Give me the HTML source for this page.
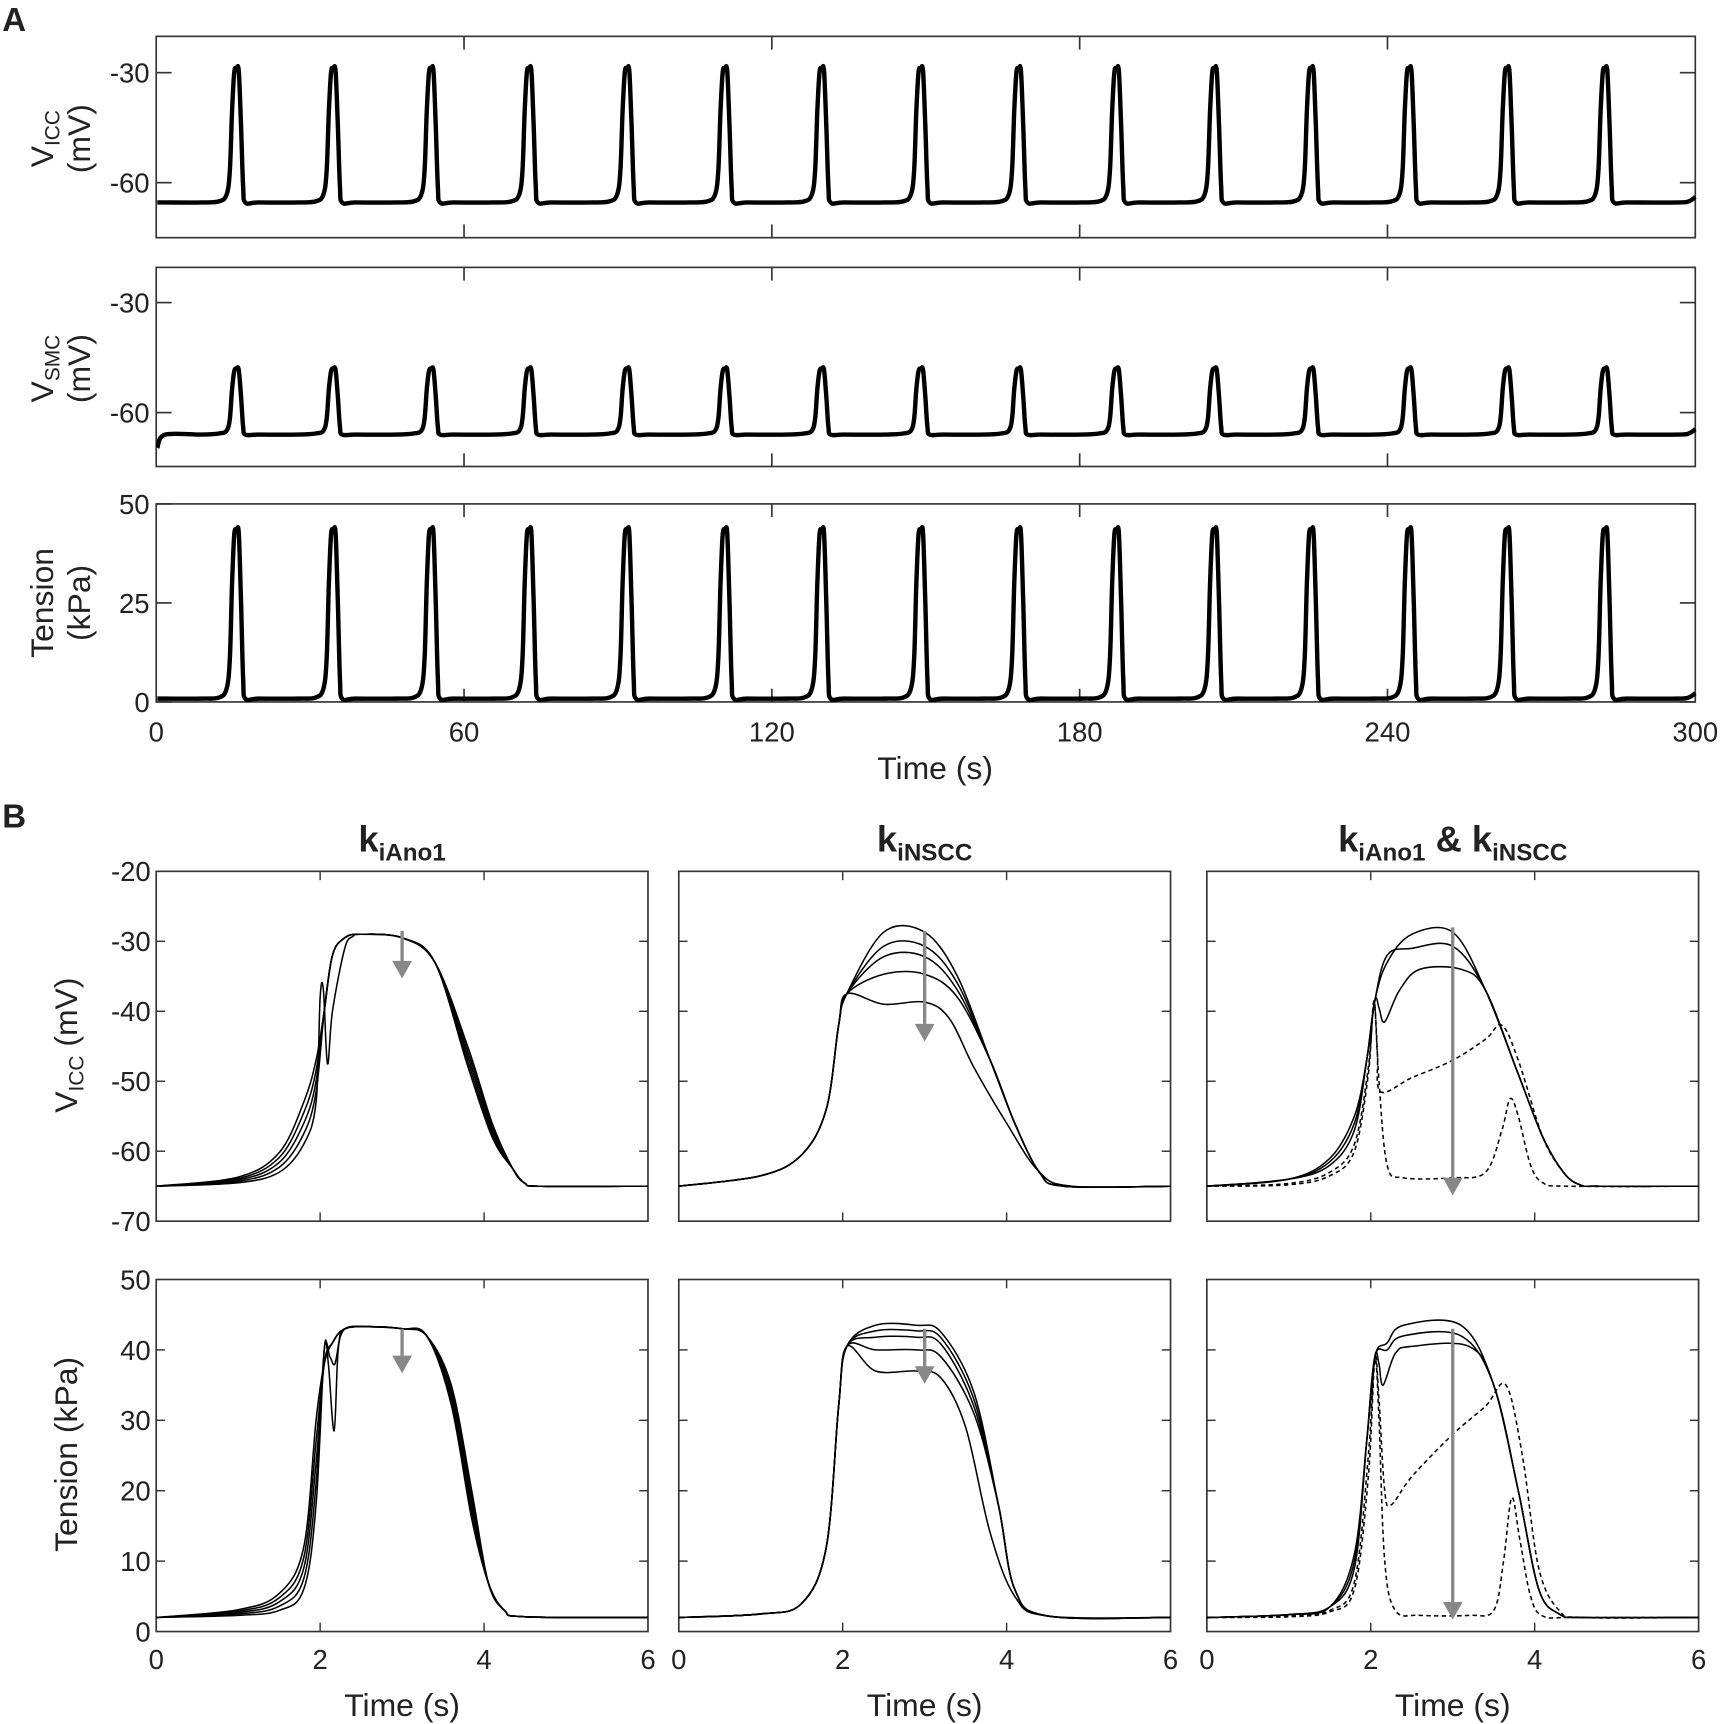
<!DOCTYPE html>
<html><head><meta charset="utf-8"><style>
html,body{margin:0;padding:0;background:#fff}
svg{display:block}
text{font-family:"Liberation Sans",sans-serif;fill:#222}
</style></head><body>
<svg id="s" width="1725" height="1724" viewBox="0 0 1568 1567" xmlns="http://www.w3.org/2000/svg"></svg>
<script>
const S=document.getElementById('s');const NS='http://www.w3.org/2000/svg';
function el(t,a,txt){const e=document.createElementNS(NS,t);for(const k in a)e.setAttribute(k,a[k]);if(txt!==undefined)e.innerHTML=txt;S.appendChild(e);return e;}
function cr(p){let d='M'+p[0][0].toFixed(1)+','+p[0][1].toFixed(1);for(let i=0;i<p.length-1;i++){const p0=p[i-1]||p[i],p1=p[i],p2=p[i+1],p3=p[i+2]||p2;
const c1=[p1[0]+(p2[0]-p0[0])/6,p1[1]+(p2[1]-p0[1])/6],c2=[p2[0]-(p3[0]-p1[0])/6,p2[1]-(p3[1]-p1[1])/6];
d+='C'+c1[0].toFixed(1)+','+c1[1].toFixed(1)+' '+c2[0].toFixed(1)+','+c2[1].toFixed(1)+' '+p2[0].toFixed(1)+','+p2[1].toFixed(1);}return d;}
function box(x0,y0,x1,y1){el('rect',{x:x0,y:y0,width:x1-x0,height:y1-y0,fill:'none',stroke:'#333','stroke-width':1.5});}
const F='font-size:25px';
el('text',{x:2,y:28,style:'font-size:30px;font-weight:bold'},'A');
el('text',{x:2,y:752,style:'font-size:30px;font-weight:bold'},'B');
const A=[[33,216],[243,424],[458,638]];
A.forEach(([y0,y1],i)=>{box(142,y0,1541,y1);
 for(let k=1;k<5;k++){const x=142+k*279.8;el('line',{x1:x,y1:y0,x2:x,y2:y0+12,stroke:'#333','stroke-width':1.5});el('line',{x1:x,y1:y1,x2:x,y2:y1-12,stroke:'#333','stroke-width':1.5});}
});
function ytick(x0,x1,y,lab){el('line',{x1:x0,y1:y,x2:x0+14,y2:y,stroke:'#333','stroke-width':1.5});el('line',{x1:x1,y1:y,x2:x1-14,y2:y,stroke:'#333','stroke-width':1.5});el('text',{x:x0-6,y:y+9,'text-anchor':'end',style:F},lab);}
ytick(142,1541,66,'-30');ytick(142,1541,166,'-60');
ytick(142,1541,275,'-30');ytick(142,1541,375,'-60');
ytick(142,1541,458,'50');ytick(142,1541,548,'25');ytick(142,1541,638,'0');
['0','60','120','180','240','300'].forEach((l,k)=>el('text',{x:142+k*279.8,y:674,'text-anchor':'middle',style:F},l));
el('text',{x:850,y:708,'text-anchor':'middle',style:'font-size:29px'},'Time (s)');
function ylab(x,y,html,fs){el('text',{x:0,y:0,transform:`translate(${x},${y}) rotate(-90)`,'text-anchor':'middle',style:'font-size:'+(fs||29)+'px'},html);}
ylab(48,126,'V<tspan dy="6" style="font-size:19px">ICC</tspan>');ylab(82,126,'(mV)');
ylab(48,335,'V<tspan dy="6" style="font-size:19px">SMC</tspan>');ylab(82,335,'(mV)');
ylab(48,548,'Tension');ylab(82,548,'(kPa)');
const peaks=[215,303,392,481,570,659,747,837,926,1015,1104,1192,1281,1370,1459];
function trainA(base,top,x0){let p=[[143,base+(x0||0)],[150,base]];peaks.forEach(c=>{const a=top-base;
p.push([c-32,base],[c-16,base-1],[c-9,base+a*0.06],[c-6,base+a*0.25],[c-4,base+a*0.7],[c-2,top+2],[c,top],[c+2,top+1],[c+4,base+a*0.6],[c+6,base+a*0.12],[c+8,base],[c+20,base]);});
p.push([1525,base],[1535,base-1],[1541,base-5]);el('path',{d:cr(p),fill:'none',stroke:'#000','stroke-width':4,'stroke-linejoin':'round'});}
trainA(184,63);trainA(395,335,12);trainA(635,483);
const cols=[142,617,1097],W=447;
const R=[[792,1110,-20,-70],[1163,1483,50,0]];
const titles=['k<tspan dy="8" style="font-size:22px">iAno1</tspan>','k<tspan dy="8" style="font-size:22px">iNSCC</tspan>','k<tspan dy="8" style="font-size:22px">iAno1</tspan><tspan dy="-8"> &amp; k</tspan><tspan dy="8" style="font-size:22px">iNSCC</tspan>'];
cols.forEach((x0,c)=>{el('text',{x:x0+W/2,y:774,'text-anchor':'middle',style:'font-size:33px;font-weight:bold'},titles[c]);
 R.forEach(([y0,y1,v0,v1])=>{box(x0,y0,x0+W,y1);
  const n=5;for(let k=0;k<=n;k++){const y=y0+(y1-y0)*k/n;if(k>0&&k<n){el('line',{x1:x0,y1:y,x2:x0+8,y2:y,stroke:'#333','stroke-width':1.3});el('line',{x1:x0+W,y1:y,x2:x0+W-8,y2:y,stroke:'#333','stroke-width':1.3});}
   if(c==0)el('text',{x:x0-5,y:y+9,'text-anchor':'end',style:F},(v0+(v1-v0)*k/n).toString());}
  for(let k=1;k<3;k++){const x=x0+W*k/3;el('line',{x1:x,y1:y0,x2:x,y2:y0+8,stroke:'#333','stroke-width':1.3});el('line',{x1:x,y1:y1,x2:x,y2:y1-8,stroke:'#333','stroke-width':1.3});}
 });
 ['0','2','4','6'].forEach((l,k)=>el('text',{x:x0+k*W/3,y:1517,'text-anchor':'middle',style:F},l));
 el('text',{x:x0+W/2,y:1560,'text-anchor':'middle',style:'font-size:29px'},'Time (s)');
});
ylab(70,950,'V<tspan dy="6" style="font-size:19px">ICC</tspan><tspan dy="-6"> (mV)</tspan>');
ylab(70,1322,'Tension (kPa)');
function plot(c,r,pts,dash){const x0=cols[c],[y0,y1,v0,v1]=R[r];const p=pts.map(([t,v])=>[x0+t/6*W,y0+(v-v0)/(v1-v0)*(y1-y0)]);
 el('path',{d:cr(p),fill:'none',stroke:'#000','stroke-width':1.4,'stroke-dasharray':dash?'4,3':'none'});}
function arrow(c,r,va,vb){const x0=cols[c],[y0,y1,v0,v1]=R[r];const x=x0+W/2,ya=y0+(va-v0)/(v1-v0)*(y1-y0),yb=y0+(vb-v0)/(v1-v0)*(y1-y0);
 el('line',{x1:x,y1:ya,x2:x,y2:yb-12,stroke:'#888','stroke-width':3});el('path',{d:`M${x-9},${yb-14}L${x+9},${yb-14}L${x},${yb+2}Z`,fill:'#888'});}
// col1
[0,1,2,3,4].forEach(i=>{
 const pts=[[0,-65],[1,-64.5+i*0.2],[1.5,-63+i*0.7],[1.8,-59+i*1.5],[1.95,-53+i*1.5],[2.05,-40],[2.15,-32],[2.3,-29.5],[2.5,-29],[3,-29.5],[3.4,-33],[3.8,-45-i*0.7],[4.1,-56-i*0.5],[4.35,-62.5],[4.5,-64.6],[4.7,-65],[6,-65]];
 if(i==0){pts.splice(5,3,[2.0,-38],[2.04,-37],[2.09,-47.5],[2.15,-40],[2.3,-31],[2.4,-29.3]);}
 plot(0,0,pts);
 const tp=[[0,2],[1,2.3+i*0.2],[1.5,3+i*0.6],[1.8,6+i*1.5],[1.95,18+i*3],[2.05,38],[2.15,41],[2.3,43],[2.6,43.3],[3,43],[3.3,42],[3.6,35-i*0.7],[3.85,20-i*1],[4.05,7],[4.25,3],[4.5,2.1],[6,2]];
 if(i==0){tp.splice(5,3,[2.05,40],[2.1,38],[2.17,28.5],[2.22,40],[2.3,43]);}
 if(i==1){tp.splice(5,3,[2.05,40],[2.12,39],[2.18,38],[2.25,42],[2.35,43.2]);}
 plot(0,1,tp);
});
arrow(0,0,-28.5,-35);arrow(0,1,43,37);
// col2
[-29,-31,-32.5,-35,-39].forEach((pl,i)=>{
 const late=i==4;
 const pts=[[0,-65],[1,-63.5],[1.5,-60.5],[1.8,-54],[1.95,-42],[2.05,-37.5],[2.5,pl+(late?0:0.3)],[3.0,pl+0.3]];
 if(late)pts.push([3.3,-41],[3.6,-48],[4.0,-56],[4.4,-63],[4.8,-65],[6,-65]);
 else pts.push([3.4,-35-i],[3.8,-47],[4.1,-56],[4.4,-63],[4.7,-65],[6,-65]);
 plot(1,0,pts);
 const tl=[43.5,42.7,41.8,40,37][i];
 const tp=[[0,2],[1,2.5],[1.5,4],[1.8,12],[1.95,32],[2.05,40.5],[2.4,tl],[2.9,tl],[3.2,tl-1]];
 if(late)tp.push([3.5,29],[3.8,14],[4.1,5],[4.5,2.2],[6,2]);
 else tp.push([3.6,34-i],[3.9,18],[4.1,6],[4.5,2.2],[6,2]);
 plot(1,1,tp);
});
arrow(1,0,-28.5,-44);arrow(1,1,43,35.5);
// col3
[[-29,0],[-31,1],[-34,2]].forEach(([pl,i])=>{
 const pts=[[0,-65],[1,-64],[1.5,-62+i*0.5],[1.8,-57+i],[1.95,-47],[2.05,-38.5]];
 if(i==2)pts.push([2.1,-39.5],[2.17,-41.5],[2.35,-37],[2.6,pl],[3.1,pl]);else pts.push([2.2,-33+i],[2.5,pl],[3.0,pl+0.3]);
 pts.push([3.4,-37],[3.8,-49],[4.1,-58],[4.35,-63],[4.55,-64.8],[4.8,-65],[6,-65]);plot(2,0,pts);
 const tl=[43.5,42,40.5][i];
 const tp=[[0,2],[1,2.4],[1.5,3.5],[1.8,9+i],[1.95,27],[2.05,39]];
 if(i==2)tp.push([2.1,38],[2.15,35],[2.3,39.5],[2.5,tl],[3.2,tl]);else tp.push([2.2,41-i],[2.4,tl],[3.1,tl]);
 tp.push([3.5,35],[3.8,20],[4.05,6],[4.3,2.5],[4.6,2],[6,2]);plot(2,1,tp);
});
plot(2,0,[[0,-65],[1,-64.6],[1.5,-63],[1.8,-59],[1.97,-48],[2.04,-39],[2.08,-46],[2.12,-51.5],[2.5,-49.5],[3,-47],[3.4,-44],[3.6,-42],[3.8,-47],[4.1,-58],[4.35,-63],[4.55,-64.8],[4.8,-65],[6,-65]],1);
plot(2,0,[[0,-65],[1,-64.8],[1.5,-63.5],[1.8,-60],[1.97,-49],[2.04,-38.5],[2.1,-50],[2.2,-62],[2.4,-63.8],[3.0,-63.8],[3.4,-63],[3.6,-57],[3.7,-52.5],[3.8,-55],[3.95,-62],[4.1,-64.5],[4.4,-65],[6,-65]],1);
plot(2,1,[[0,2],[1,2.2],[1.5,3],[1.8,7],[1.97,25],[2.05,39],[2.1,33],[2.17,20],[2.25,18],[2.5,22],[3,28],[3.4,32],[3.65,35],[3.85,25],[4.05,9],[4.3,3],[4.6,2],[6,2]],1);
plot(2,1,[[0,2],[1,2.1],[1.5,2.8],[1.8,6],[1.97,22],[2.05,38.5],[2.1,30],[2.17,10],[2.3,3],[2.6,2.3],[3.2,2.3],[3.5,3],[3.62,10],[3.72,19],[3.82,13],[3.95,5],[4.1,2.2],[4.5,2],[6,2]],1);
arrow(2,0,-28,-66);arrow(2,1,43,2);
</script>
</body></html>
